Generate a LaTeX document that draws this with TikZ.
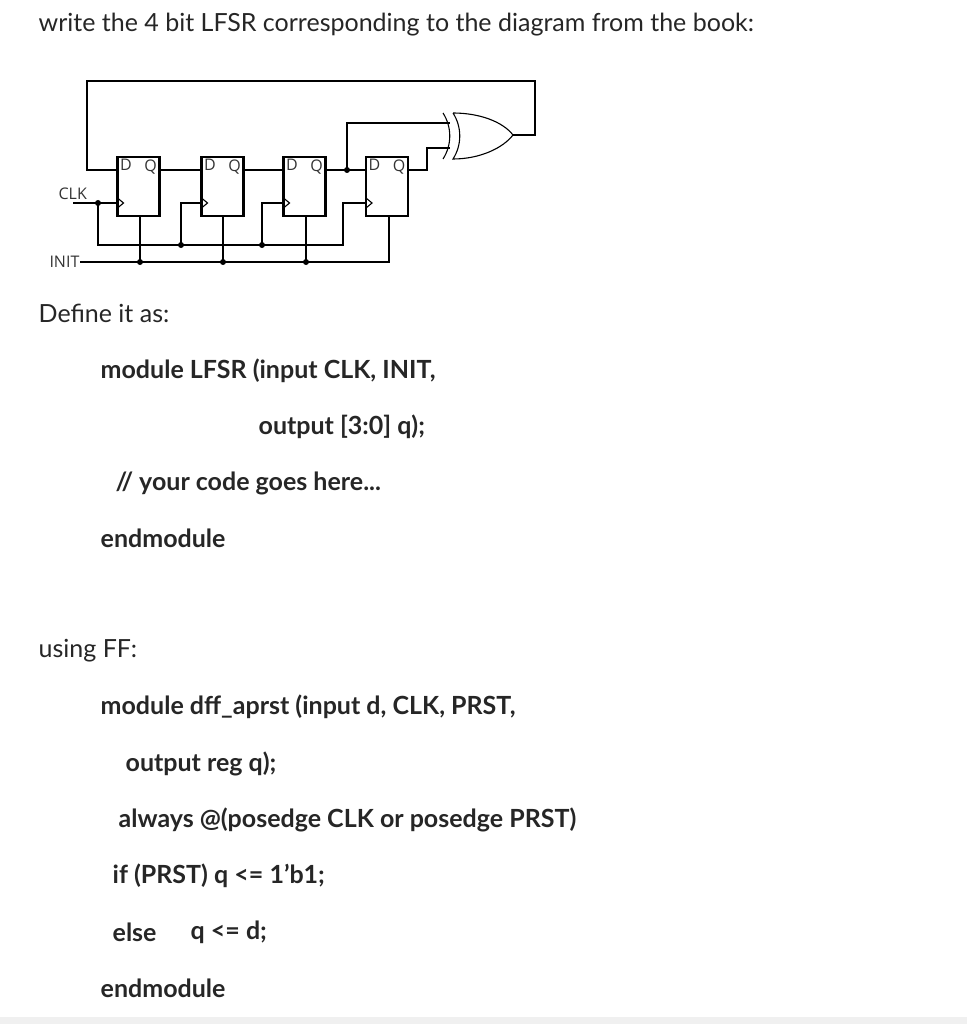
\documentclass[tikz,border=0pt]{standalone}
\usepackage{fontspec}
\setmainfont{Lato}
\newfontfamily\diagfont{Open Sans}
\begin{document}
\begin{tikzpicture}[x=1pt,y=-1pt,line width=1.3pt,
  txt/.style={anchor=west,inner sep=0pt,font=\fontsize{25}{29}\selectfont,text=black!85},
  code/.style={anchor=west,inner sep=0pt,font=\fontsize{25}{29}\selectfont\bfseries,text=black!85},
  ff/.style={draw,line width=2.2pt,minimum width=42pt,minimum height=59pt,inner sep=0pt},
  dq/.style={font=\diagfont\fontsize{16}{17}\selectfont,inner sep=0pt,text=black!80},
  dot/.style={circle,fill,inner sep=0pt,minimum size=6pt},
  w/.style={line width=1.1pt}]
\useasboundingbox (0,0) rectangle (967,1024);
\fill[black!6] (0,1017) rectangle (967,1024);
\node[txt] (h) at (38,25) {write the 4 bit LFSR corresponding to the diagram from the book:};
% flip-flops
\foreach \i/\x in {1/138.5,2/222.5,3/304.5,4/387} {
  \node[ff] (f\i) at (\x,186.5) {};
  \node[dq,anchor=north west] (d\i) at ([xshift=3pt,yshift=-3pt]f\i.north west) {D};
  \node[dq,anchor=north east] (q\i) at ([xshift=-3pt,yshift=-3pt]f\i.north east) {Q};
  \coordinate (ck\i) at (\x-21,203);
  \draw[w] (\x-21,198) -- (\x-15,203) -- (\x-21,208);
  \coordinate (din\i) at (\x-21,170);
  \coordinate (qo\i) at (\x+21,170);
  \coordinate (bot\i) at (f\i.south);
}
% shift chain
\draw[w] (qo1) -- (din2);
\draw[w] (qo2) -- (din3);
\draw[w] (qo3) -- (din4);
\node[dot] (tap) at (347,170) {};
% XOR gate
\draw[w] (453,113) .. controls (480,113) and (503,122) .. (513,135) .. controls (503,148) and (480,159) .. (453,159) .. controls (462,145) and (462,127) .. (453,113);
\draw[w] (443,113) .. controls (452,127) and (452,145) .. (443,159);
\coordinate (xo) at (513,135);
\draw[w] (tap.center) -- (347,123) -- (450,123);
\draw[w] (qo4) -- (427,170) -- (427,148) -- (450,148);
\draw[w] (xo) -- (535,135) -- (535,81) -- (87,81) -- (87,170) -- (din1);
% clock
\node[dq,anchor=south west] (clk) at (58,200) {CLK};
\node[dot] (c0) at (98,203) {};
\node[dot] (c2) at (181,245) {};
\node[dot] (c3) at (262,245) {};
\draw[w] (73,203) -- (ck1);
\draw[w] (c0.center) -- (98,245) -- (343,245) -- (343,203) -- (ck4);
\draw[w] (c2.center) -- (181,203) -- (ck2);
\draw[w] (c3.center) -- (262,203) -- (ck3);
% init
\node[dq,anchor=east] (init) at (80,262) {INIT};
\node[dot] (i1) at (140,262) {};
\node[dot] (i2) at (223,262) {};
\node[dot] (i3) at (306,262) {};
\draw[w] (init.east) -- (389,262) -- (389,216);
\draw[w] (i1.center) -- (140,216);
\draw[w] (i2.center) -- (223,216);
\draw[w] (i3.center) -- (306,216);
% text
\node[txt] (t1) at (38,313) {Define it as:};
\node[code] (t2) at (100,371) {module LFSR (input CLK, INIT,};
\node[code] (t3) at (258,427) {output [3:0] q);};
\node[code] (t4) at (115,483) {// your code goes here...};
\node[code] (t5) at (100,538) {endmodule};
\node[txt] (t6) at (38,651) {using FF:};
\node[code] (t7) at (100,707) {module dff\_aprst (input d, CLK, PRST,};
\node[code] (t8) at (125,764) {output reg q);};
\node[code] (t9) at (118,820) {always @(posedge CLK or posedge PRST)};
\node[code] (t10) at (112,876) {if (PRST) q <= 1’b1;};
\node[code] (t11) at (112,932) {else};
\node[code] (t12) at (190,932) {q <= d;};
\node[code] (t13) at (100,988) {endmodule};
\end{tikzpicture}
\end{document}
